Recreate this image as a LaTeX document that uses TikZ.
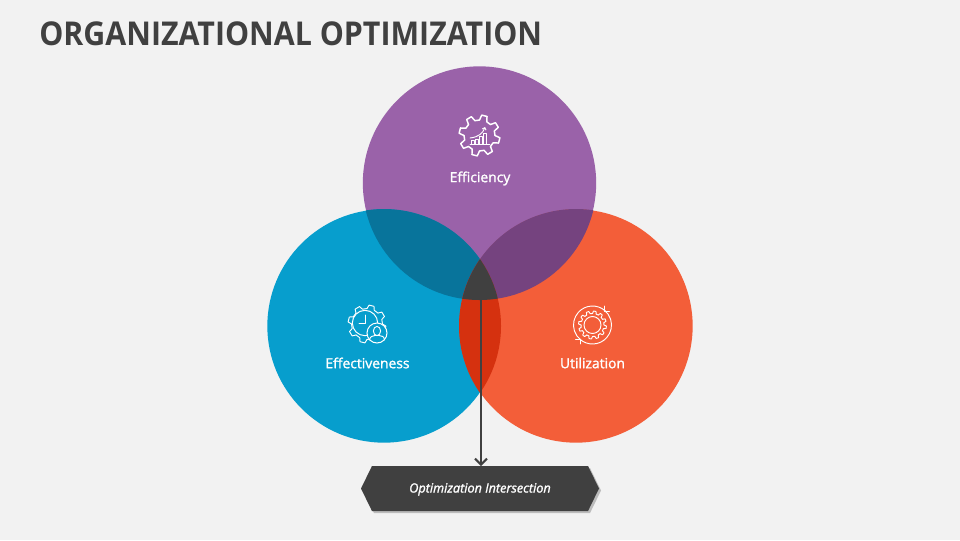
\documentclass[tikz,border=0pt]{standalone}
\usepackage{fontspec}
\setmainfont{Open Sans}
\newfontfamily\semibold[FakeBold=1.4]{Open Sans}
\newfontfamily\titlefont[FakeStretch=0.925]{Open Sans}
\usetikzlibrary{shapes.symbols,positioning,shadows,arrows.meta}
\definecolor{paper}{HTML}{F2F2F2}
\definecolor{ink}{HTML}{404040}
\definecolor{violet}{HTML}{9A62A9}
\definecolor{sky}{HTML}{079ECD}
\definecolor{coral}{HTML}{F35E39}
\definecolor{violetsky}{HTML}{08749B}
\definecolor{violetcoral}{HTML}{75437F}
\definecolor{skycoral}{HTML}{D5310F}
\tikzstyle{venn} = [circle, minimum size=175pt, inner sep=0pt, outer sep=0pt]
\tikzstyle{venntext} = [text=white, font=\semibold\fontsize{10.4pt}{12pt}\selectfont]
\tikzstyle{iconline} = [draw=white, line width=1.1pt, line join=round, line cap=round]
\tikzstyle{thinline} = [draw=white, line width=0.7pt, line join=round, line cap=round]
\tikzstyle{banner} = [signal, signal to=east and west, signal pointer angle=128, fill=ink, text=white,
  minimum width=178.5pt, minimum height=33.75pt, inner sep=0pt, outer sep=0pt,
  drop shadow={shadow xshift=1.5pt, shadow yshift=-1.5pt, fill=black, opacity=0.22},
  font=\semibold\itshape\fontsize{9.5pt}{11pt}\selectfont]
% teeth, outer radius, inner radius, line style
\newcommand{\gearteeth}[4]{%
  \pgfmathsetmacro{\gearstep}{360/#1}
  \foreach \i in {1,...,#1} {
    \pgfmathsetmacro{\a}{\i*\gearstep}
    \pgfmathsetmacro{\b}{\a+\gearstep*0.62}
    \draw[#4] (\a:#3) -- (\a+\gearstep*0.14:#2) -- (\a+\gearstep*0.48:#2) -- (\b:#3)
      arc (\b:\a+\gearstep:#3);
  }
}
\begin{document}
\begin{tikzpicture}[x=0.75pt,y=-0.75pt]
    \fill[paper] (0,0) rectangle (960,540);
    \useasboundingbox (0,0) rectangle (960,540);

    \node [anchor=base west, inner sep=0pt, text=ink, font=\titlefont\bfseries\fontsize{24.6pt}{30pt}\selectfont] (title) at (39,45.5) {ORGANIZATIONAL OPTIMIZATION};

    \node [venn, fill=violet] (efficiency) at (479.5,183) {};
    \node [venn, fill=sky] (effectiveness) at (384,326) {};
    \node [venn, fill=coral] (utilization) at (576,326) {};

    % overlaps
    \begin{scope}
      \clip (efficiency.center) circle (117);
      \fill[violetsky] (effectiveness.center) circle (117);
      \fill[violetcoral] (utilization.center) circle (117);
    \end{scope}
    \begin{scope}
      \clip (effectiveness.center) circle (117);
      \fill[skycoral] (utilization.center) circle (117);
      \clip (utilization.center) circle (117);
      \fill[ink] (efficiency.center) circle (117);
    \end{scope}

    \node [venntext] (efficiencytext) at (480,178.5) {Efficiency};
    \node [venntext] (effectivenesstext) at (367.5,363) {Effectiveness};
    \node [venntext] (utilizationtext) at (592.5,363) {Utilization};

    \node [banner] (intersection) at (480,488.5) {\raisebox{-3pt}[0pt][0pt]{Optimization Intersection}};
    \coordinate (arrowstart) at (481,280);
    \draw[ink, line width=1.5pt, -{Straight Barb[length=4.5pt,width=9pt]}] (arrowstart) -- (arrowstart |- intersection.north);

    % gear with chart
    \begin{scope}[shift={(479.5,135.5)}]
      \gearteeth{8}{20.5}{15.5}{iconline}
    \end{scope}
    \draw[thinline] (470,144.5) -- (490,144.5);
    \foreach \x/\h in {471/4,475/5,479/8,483/11} {
      \draw[thinline] (\x,144.5) rectangle (\x+3,144.5-\h);
    }
    \draw[thinline, -{Straight Barb[length=1.5pt,width=3pt]}] (470,138) .. controls (479,137) and (483,133) .. (485,127);

    % gear with clock and person
    \begin{scope}[shift={(367,324)}]
      \gearteeth{8}{19}{15.5}{thinline}
    \end{scope}
    \node [circle, draw=white, line width=0.75pt, fill=sky, minimum size=19pt, inner sep=0pt] (clock) at (365,323) {};
    \draw[thinline] (365,315) -- (clock.center) -- (359,323);
    \node [circle, draw=white, line width=0.75pt, fill=sky, minimum size=15pt, inner sep=0pt] (person) at (377,333) {};
    \draw[thinline] (377,331) ellipse (3.6 and 4.6);
    \draw[thinline] (369.5,340) .. controls (370,336) and (373,336) .. (375,335.5) -- (379,335.5) .. controls (382,336) and (384,336) .. (384.5,340);

    % gear with cycle
    \begin{scope}[shift={(592.5,325)}]
      \gearteeth{12}{14}{11.5}{thinline}
      \draw[thinline] (0,0) circle (8.5);
      \draw[thinline] (-48:19) arc (-48:-232:19);
      \draw[thinline] (132:19) arc (132:-52:19);
      \draw[thinline] (12,-19) -- (12,-14) -- (17,-14);
      \draw[thinline] (-12,19) -- (-12,14) -- (-17,14);
    \end{scope}
\end{tikzpicture}
\end{document}
